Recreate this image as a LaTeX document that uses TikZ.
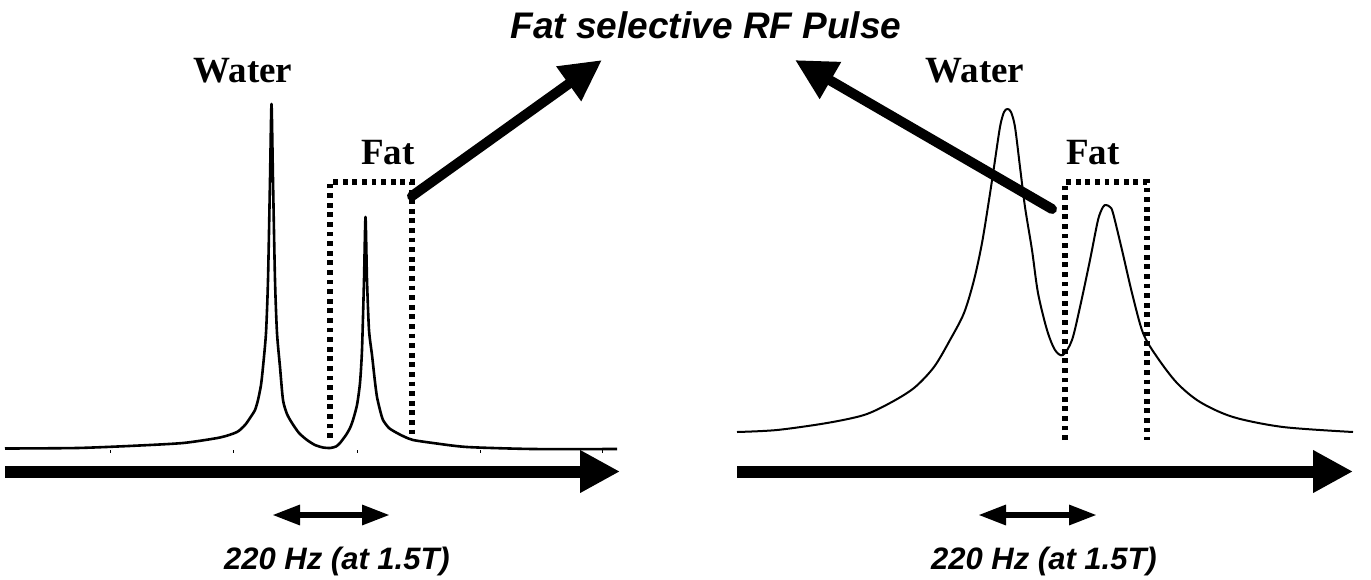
\documentclass[tikz,border=0pt]{standalone}
\usepackage{fontspec}
\setmainfont{Liberation Serif}
\setsansfont{Liberation Sans}
\usetikzlibrary{arrows.meta}
\begin{document}
\begin{tikzpicture}[x=0.5pt,y=-0.5pt,
  specL/.style={line width=1.3pt, line join=round},
  specR/.style={line width=1pt, line join=round},
  selbox/.style={line width=3pt, dash pattern=on 2.4pt off 2.4pt},
  bigarrow/.style={line width=5pt, line cap=round, -{Triangle[length=20.5pt,width=20pt]}},
  axisarrow/.style={line width=6pt, -{Triangle[length=20pt,width=20pt]}},
  hzarrow/.style={line width=3pt, {Triangle[length=14pt,width=9.5pt]}-{Triangle[length=14pt,width=9.5pt]}},
  tick/.style={line width=0.4pt},
  peaklabel/.style={font=\fontsize{18.5}{19}\selectfont\bfseries, anchor=base, inner sep=0pt},
  titlelabel/.style={font=\sffamily\bfseries\itshape\fontsize{18.5}{19}\selectfont, anchor=base, inner sep=0pt},
  hzlabel/.style={font=\sffamily\bfseries\itshape\fontsize{15.5}{16}\selectfont, anchor=base, inner sep=0pt},
]
\useasboundingbox (0,0) rectangle (1371,579);

% texts
\node[titlelabel] (title) at (706,38) {Fat selective RF Pulse};
\node[peaklabel] (waterL) at (243,82) {Water};
\node[peaklabel] (fatL) at (388,164) {Fat};
\node[peaklabel] (waterR) at (975,82) {Water};
\node[peaklabel] (fatR) at (1093,164) {Fat};
\node[hzlabel] (hzL) at (337,569) {220 Hz (at 1.5T)};
\node[hzlabel] (hzR) at (1044,569) {220 Hz (at 1.5T)};

% left spectrum
\draw[specL] plot[smooth, tension=0.4] coordinates {
 (5,448.5) (77,448) (133,445.8) (183,443) (220,437.5) (237,432) (245,425)
 (250,418) (255,410) (258,400) (261,385) (263,367) (266,333) (268,280)
 (270,180) (271.5,104) (273,180) (275,280) (277,333) (280,367) (283,400)
 (287,414) (292,423) (299,433) (307,440) (315,445) (323,447.5) (330,448)
 (336,446.5) (340,443) (346,435) (350,428) (353,420) (357,405) (360,383)
 (362,350) (364,280) (365.5,217) (367,280) (369,330) (372,355) (375,382)
 (377,397) (380,410) (383,420) (389,428) (397,433) (405,437) (413,440)
 (433,443) (467,447) (533,449) (617,449)};
\foreach \t in {110,233,357,480,602} \draw[tick] (\t,450) -- (\t,453);

% right spectrum
\draw[specR] plot[smooth, tension=0.5] coordinates {
 (737,432) (777,430) (827,423) (864,415) (890,403) (914,388) (934,367)
 (950,340) (964,313) (974,280) (982,243) (989,200) (994,167) (1000,127)
 (1004,112) (1007.5,109) (1011,112) (1015,127) (1020,167) (1025,207)
 (1032,250) (1038,293) (1047,330) (1055,350) (1063,355) (1072,340)
 (1080,307) (1090,260) (1098,220) (1103,207) (1106,205) (1110,207)
 (1113,213) (1122,250) (1132,293) (1143,333) (1157,357) (1177,383)
 (1200,402) (1233,417) (1283,427) (1353,432)};

% selection boxes
\draw[selbox] (330,438) -- (330,182) -- (412,182) -- (412,438);
\draw[selbox] (1065,440) -- (1065,182) -- (1147,182) -- (1147,440);

% RF pulse arrows
\coordinate (startL) at (412,196);
\coordinate (tipL) at (602,60);
\coordinate (startR) at (1052,209);
\coordinate (tipR) at (795,60);
\draw[bigarrow] (startL) -- (tipL);
\draw[bigarrow] (startR) -- (tipR);

% frequency axes
\coordinate (axL0) at (5,471.5);
\coordinate (axL1) at (620,471.5);
\coordinate (axR0) at (737,471.5);
\coordinate (axR1) at (1353,471.5);
\draw[axisarrow] (axL0) -- (axL1);
\draw[axisarrow] (axR0) -- (axR1);

% 220 Hz arrows
\coordinate (hzL0) at (272,515);
\coordinate (hzL1) at (390,515);
\coordinate (hzR0) at (978,515);
\coordinate (hzR1) at (1097,515);
\draw[hzarrow] (hzL0) -- (hzL1);
\draw[hzarrow] (hzR0) -- (hzR1);
\end{tikzpicture}
\end{document}
